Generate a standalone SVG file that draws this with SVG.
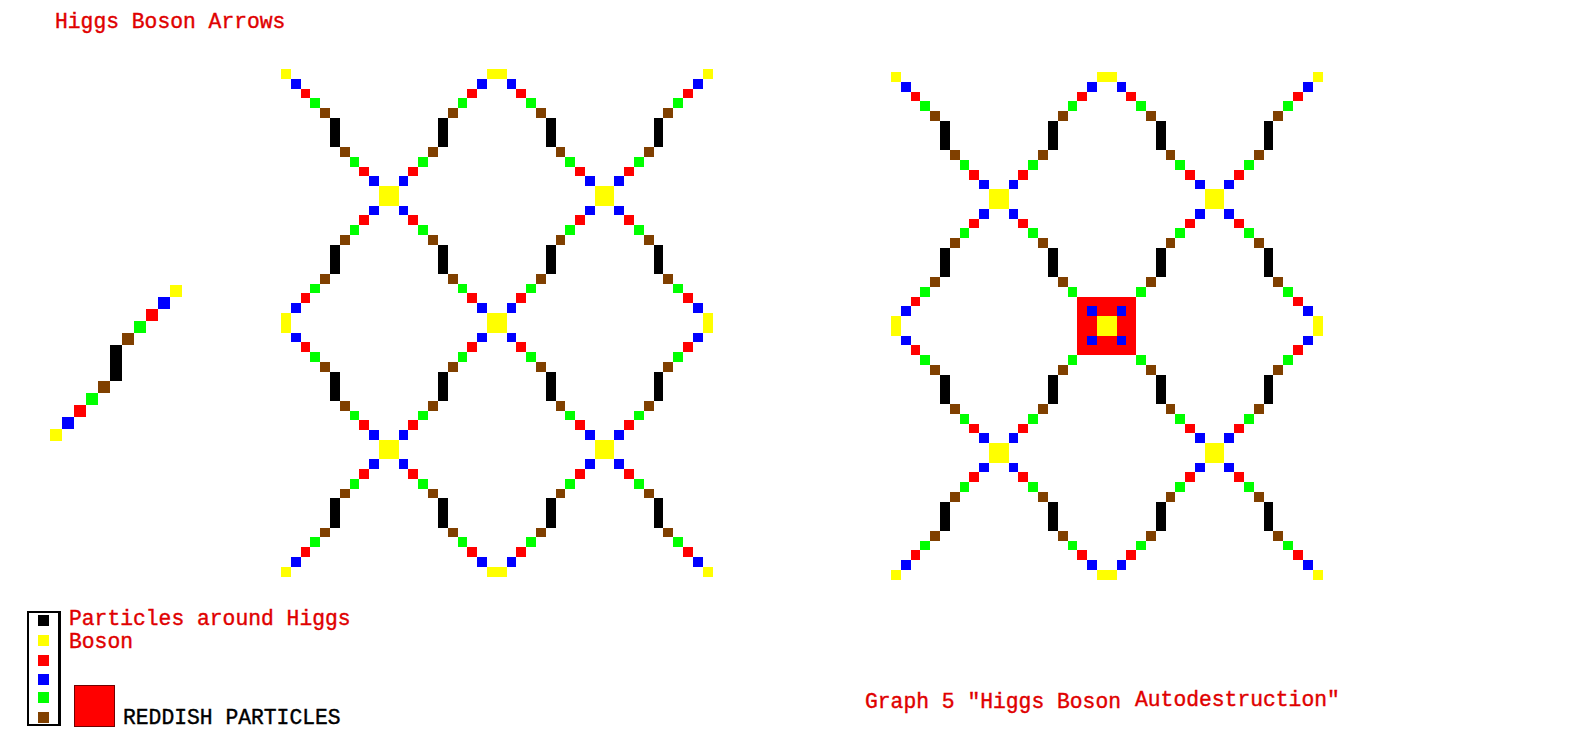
<svg xmlns="http://www.w3.org/2000/svg" xmlns:xlink="http://www.w3.org/1999/xlink" width="1571" height="751" viewBox="0 0 1571 751">
<style>
.y{fill:#FFFF00}.b{fill:#0000FF}.r{fill:#FF0000}.g{fill:#00FF00}.n{fill:#804000}.k{fill:#000000}
.t{font-family:"Liberation Mono","Courier New",monospace;font-size:21.33px;font-weight:normal;fill:#E00000;stroke:#E00000;stroke-width:0.4}
.tk{fill:#000000;stroke:#000000}
rect{shape-rendering:crispEdges}
</style>
<defs>
<g id="segR">
<rect class="b" x="0" y="0" width="1" height="1"/>
<rect class="r" x="1" y="1" width="1" height="1"/>
<rect class="g" x="2" y="2" width="1" height="1"/>
<rect class="n" x="3" y="3" width="1" height="1"/>
<rect class="k" x="4" y="4" width="1" height="3"/>
<rect class="n" x="5" y="7" width="1" height="1"/>
<rect class="g" x="6" y="8" width="1" height="1"/>
<rect class="r" x="7" y="9" width="1" height="1"/>
<rect class="b" x="8" y="10" width="1" height="1"/>
</g>
<g id="segL"><use xlink:href="#segR" transform="translate(9,0) scale(-1,1)"/></g>
<g id="lattice">
<use xlink:href="#segR" x="1" y="1"/>
<use xlink:href="#segL" x="12" y="1"/>
<use xlink:href="#segR" x="23" y="1"/>
<use xlink:href="#segL" x="34" y="1"/>
<use xlink:href="#segL" x="1" y="14"/>
<use xlink:href="#segR" x="12" y="14"/>
<use xlink:href="#segL" x="23" y="14"/>
<use xlink:href="#segR" x="34" y="14"/>
<use xlink:href="#segR" x="1" y="27"/>
<use xlink:href="#segL" x="12" y="27"/>
<use xlink:href="#segR" x="23" y="27"/>
<use xlink:href="#segL" x="34" y="27"/>
<use xlink:href="#segL" x="1" y="40"/>
<use xlink:href="#segR" x="12" y="40"/>
<use xlink:href="#segL" x="23" y="40"/>
<use xlink:href="#segR" x="34" y="40"/>
<rect class="y" x="0" y="0" width="1" height="1"/>
<rect class="y" x="21" y="0" width="2" height="1"/>
<rect class="y" x="43" y="0" width="1" height="1"/>
<rect class="y" x="10" y="12" width="2" height="2"/>
<rect class="y" x="32" y="12" width="2" height="2"/>
<rect class="y" x="0" y="25" width="1" height="2"/>
<rect class="y" x="21" y="25" width="2" height="2"/>
<rect class="y" x="43" y="25" width="1" height="2"/>
<rect class="y" x="10" y="38" width="2" height="2"/>
<rect class="y" x="32" y="38" width="2" height="2"/>
<rect class="y" x="0" y="51" width="1" height="1"/>
<rect class="y" x="21" y="51" width="2" height="1"/>
<rect class="y" x="43" y="51" width="1" height="1"/>
</g>
</defs>
<rect x="0" y="0" width="1571" height="751" fill="#FFFFFF"/>
<text class="t" x="55" y="28">Higgs Boson Arrows</text>
<g id="arrow" transform="translate(50,285) scale(11.97,11.97)">
<use xlink:href="#segL" x="1" y="1"/>
<rect class="y" x="10" y="0" width="1" height="1"/>
<rect class="y" x="0" y="12" width="1" height="1"/>
</g>
<g id="graph-left" transform="translate(281,69) scale(9.807,9.76)">
<use xlink:href="#lattice"/>
</g>
<g id="graph-right" transform="translate(891,72.2) scale(9.807,9.76)">
<use xlink:href="#lattice"/>
<rect class="r" x="19" y="23" width="6" height="6"/>
<rect class="y" x="21" y="25" width="2" height="2"/>
<rect class="b" x="20" y="24" width="1" height="1"/>
<rect class="b" x="23" y="24" width="1" height="1"/>
<rect class="b" x="20" y="27" width="1" height="1"/>
<rect class="b" x="23" y="27" width="1" height="1"/>
</g>
<g id="legend">
<rect x="27.85" y="612.15" width="31.7" height="112.7" fill="none" stroke="#000000" stroke-width="2.3"/>
<rect class="k" x="38.3" y="615" width="11" height="11"/>
<rect class="y" x="38.3" y="634.5" width="11" height="11"/>
<rect class="r" x="38.3" y="655" width="11" height="11"/>
<rect class="b" x="38.3" y="673.5" width="11" height="11"/>
<rect class="g" x="38.3" y="691.5" width="11" height="11"/>
<rect class="n" x="38.3" y="712" width="11" height="11"/>
<text class="t" x="69" y="625">Particles around Higgs</text>
<text class="t" x="69" y="648">Boson</text>
<rect x="74.5" y="685.5" width="40" height="40.5" fill="#FF0000" stroke="#700000" stroke-width="1"/>
<text class="t tk" x="123" y="724">REDDISH PARTICLES</text>
</g>
<g id="caption">
<text class="t" x="865" y="708">Graph 5 "Higgs Boson</text>
<text class="t" x="1135" y="706">Autodestruction"</text>
</g>
</svg>
